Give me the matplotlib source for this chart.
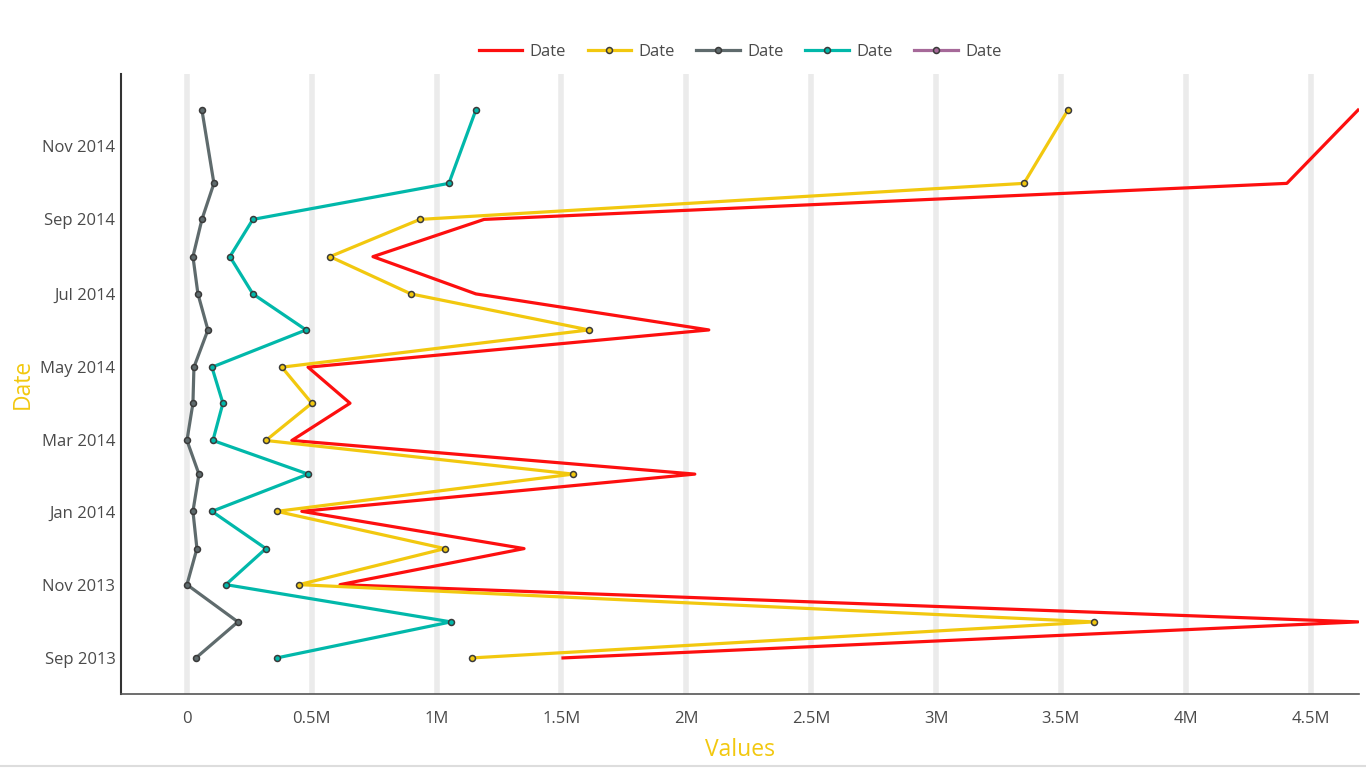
import matplotlib
matplotlib.use("Agg")
import matplotlib.pyplot as plt
import matplotlib.dates as mdates
import numpy as np
from matplotlib.ticker import FuncFormatter
from datetime import datetime

plt.rcParams['font.family'] = ['Open Sans', 'DejaVu Sans']

# months on the y axis (no Nov 2014 row)
months = ['2013-09', '2013-10', '2013-11', '2013-12', '2014-01', '2014-02',
          '2014-03', '2014-04', '2014-05', '2014-06', '2014-07', '2014-08',
          '2014-09', '2014-10', '2014-12']

red_vals = [1.506e6, 4.69e6, 0.613e6, 1.35e6, 0.46e6, 2.034e6, 0.42e6, 0.653e6,
            0.485e6, 2.09e6, 1.157e6, 0.745e6, 1.19e6, 4.405e6, 4.69e6]
yellow_vals = [1.141e6, 3.632e6, 0.449e6, 1.033e6, 0.36e6, 1.546e6, 0.316e6, 0.5e6,
               0.38e6, 1.61e6, 0.897e6, 0.573e6, 0.933e6, 3.352e6, 3.528e6]
gray_vals = [0.036e6, 0.204e6, 0.0, 0.04e6, 0.024e6, 0.048e6, 0.0, 0.024e6,
             0.028e6, 0.084e6, 0.044e6, 0.024e6, 0.06e6, 0.108e6, 0.06e6]
teal_vals = [0.36e6, 1.057e6, 0.156e6, 0.316e6, 0.1e6, 0.485e6, 0.104e6, 0.144e6,
             0.1e6, 0.477e6, 0.264e6, 0.172e6, 0.264e6, 1.049e6, 1.157e6]
purple_vals = []

series_names = ['Date', 'Date', 'Date', 'Date', 'Date']
colors = ['#FD0F0F', '#F2C80F', '#5F6B6D', '#01B8AA', '#A66999']

dates = [datetime.strptime(m, '%Y-%m') for m in months]

fig = plt.figure(figsize=(13.66, 7.68), dpi=100)
ax = fig.add_axes([0.0886, 0.0964, 0.9063, 0.8072])

lw = 2.3
ax.plot(red_vals, dates, color=colors[0], lw=lw, label=series_names[0], zorder=3)
mk = dict(marker='o', markersize=4.3, markeredgecolor='#3a3a3a', markeredgewidth=1.1)
ax.plot(yellow_vals, dates, color=colors[1], lw=lw, label=series_names[1], zorder=4, **mk)
ax.plot(gray_vals, dates, color=colors[2], lw=lw, label=series_names[2], zorder=4, **mk)
ax.plot(teal_vals, dates, color=colors[3], lw=lw, label=series_names[3], zorder=4, **mk)
ax.plot(purple_vals, [], color=colors[4], lw=lw, label=series_names[4], zorder=4, **mk)

ax.set_xlim(-0.264e6, 4.694e6)
ax.set_ylim(datetime(2013, 8, 2), datetime(2014, 12, 31))

ax.set_xticks(np.arange(0, 4.6e6, 0.5e6))

def fmt_m(v, pos):
    if v == 0:
        return '0'
    s = '%g' % (v / 1e6)
    return s + 'M'

ax.xaxis.set_major_formatter(FuncFormatter(fmt_m))
ax.yaxis.set_major_locator(mdates.MonthLocator(bymonth=[1, 3, 5, 7, 9, 11]))
ax.yaxis.set_major_formatter(mdates.DateFormatter('%b %Y'))

ax.grid(axis='x', color='#ebebeb', lw=4, zorder=0)
ax.set_axisbelow(True)
for side in ['top', 'right']:
    ax.spines[side].set_visible(False)
ax.spines['left'].set_color('#333333')
ax.spines['left'].set_linewidth(1.5)
ax.spines['bottom'].set_color('#555555')
ax.spines['bottom'].set_linewidth(1.2)
ax.tick_params(axis='both', length=0, labelsize=12, colors='#4a4a4a', pad=4)
ax.tick_params(axis='x', pad=12)

ax.set_xlabel('Values', color='#F2C80F', fontsize=16.5, labelpad=8)
ax.set_ylabel('Date', color='#F2C80F', fontsize=16.5, labelpad=4)

leg = ax.legend(loc='center', bbox_to_anchor=(0.5, 1.036), ncol=5, frameon=False,
                fontsize=12, handlelength=2.6, columnspacing=1.3, handletextpad=0.45,
                labelcolor='#4a4a4a')

fig.add_artist(plt.Line2D([0, 1], [0.003, 0.003], color='#dddddd', lw=1.5))

fig.savefig('out.png', dpi=100)
